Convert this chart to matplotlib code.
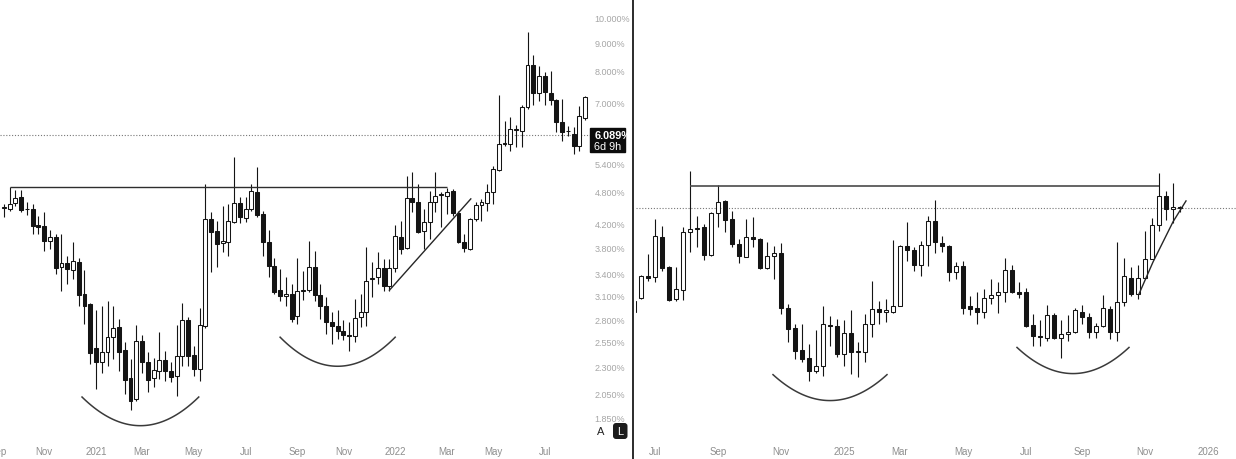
import numpy as np
import pandas as pd
import matplotlib
matplotlib.use('Agg')
import matplotlib.pyplot as plt
import matplotlib.dates as mdates
import matplotlib.transforms as mtrans
from matplotlib.patches import Rectangle, FancyBboxPatch
from matplotlib.lines import Line2D
from matplotlib.ticker import FixedLocator, FuncFormatter, NullLocator

plt.rcParams['font.family'] = ['Liberation Sans Narrow', 'Liberation Sans', 'DejaVu Sans']

W, H = 1236, 460

# ---- left chart, weekly bars (yield %) ----
left_start = '2020-09-14'
left_open = [4.49, 4.47, 4.58, 4.70, 4.47, 4.47, 4.17, 4.16, 3.90, 3.97,
             3.50, 3.56, 3.45, 3.57, 3.12, 2.99, 2.48, 2.34, 2.44, 2.60,
             2.71, 2.46, 2.19, 2.00, 2.56, 2.34, 2.19, 2.25, 2.36, 2.25,
             2.21, 2.40, 2.80, 2.41, 2.27, 2.72, 4.28, 4.07, 3.87, 3.89,
             4.23, 4.58, 4.30, 4.47, 4.80, 4.37, 3.89, 3.51, 3.17, 3.09,
             3.12, 2.84, 3.16, 3.17, 3.50, 3.11, 2.97, 2.77, 2.72, 2.67,
             2.62, 2.61, 2.83, 2.89, 3.32, 3.35, 3.48, 3.22, 3.48, 3.97,
             3.79, 4.68, 4.60, 4.07, 4.23, 4.60, 4.73, 4.72, 4.82, 4.39,
             3.89, 3.77, 4.28, 4.54, 4.58, 4.80, 5.27, 5.88, 5.88, 6.23,
             6.21, 6.87, 8.20, 7.29, 7.83, 7.29, 7.08, 6.45, 6.21, 6.13,
             5.83, 6.55]
left_high = [4.56, 4.90, 4.84, 4.84, 4.60, 4.56, 4.33, 4.41, 4.09, 4.02,
             4.02, 3.66, 3.89, 3.63, 3.45, 3.00, 2.91, 2.96, 3.03, 2.97,
             2.81, 2.55, 2.37, 2.74, 2.62, 2.44, 2.38, 2.66, 2.45, 2.34,
             2.74, 3.00, 2.83, 2.50, 2.94, 4.96, 4.41, 4.24, 4.52, 4.56,
             5.55, 4.70, 4.70, 4.96, 5.32, 4.43, 4.09, 3.63, 3.47, 3.35,
             3.25, 3.63, 3.44, 3.90, 3.74, 3.25, 3.08, 2.89, 2.91, 2.79,
             2.77, 3.06, 3.12, 3.80, 3.57, 3.72, 3.62, 3.62, 4.17, 4.24,
             5.14, 5.22, 4.96, 4.47, 4.82, 5.22, 4.80, 4.88, 4.86, 4.43,
             4.02, 4.30, 4.60, 4.66, 4.96, 5.36, 7.23, 6.47, 6.58, 6.36,
             6.93, 9.43, 8.56, 8.17, 7.96, 8.00, 7.10, 7.10, 6.34, 6.31,
             6.90, 7.20]
left_low = [4.32, 4.43, 4.52, 4.41, 4.35, 4.02, 4.02, 3.74, 3.77, 3.39,
            3.16, 3.25, 3.32, 2.97, 2.75, 2.32, 2.09, 2.24, 2.30, 2.37,
            2.25, 2.05, 1.91, 1.99, 2.24, 2.06, 2.11, 2.18, 2.16, 2.15,
            2.03, 2.30, 2.30, 2.21, 2.16, 2.70, 3.42, 3.50, 3.72, 3.66,
            4.21, 4.21, 4.23, 4.43, 4.32, 3.66, 3.35, 3.12, 3.03, 2.97,
            2.77, 2.75, 3.04, 3.15, 3.03, 2.81, 2.64, 2.53, 2.58, 2.57,
            2.45, 2.55, 2.71, 2.72, 3.08, 3.25, 3.16, 3.16, 3.42, 3.69,
            3.77, 4.41, 4.04, 3.77, 3.94, 4.41, 4.14, 4.37, 4.33, 3.87,
            3.72, 3.76, 4.24, 4.24, 4.43, 4.56, 5.25, 5.83, 5.70, 5.80,
            5.80, 6.81, 6.93, 7.05, 6.93, 6.93, 6.18, 5.95, 6.08, 5.63,
            5.70, 6.50]
left_close = [4.51, 4.56, 4.68, 4.45, 4.46, 4.16, 4.14, 3.90, 3.97, 3.48,
              3.56, 3.47, 3.59, 3.11, 2.97, 2.43, 2.34, 2.44, 2.60, 2.70,
              2.44, 2.17, 1.99, 2.56, 2.34, 2.17, 2.26, 2.36, 2.25, 2.20,
              2.40, 2.80, 2.40, 2.27, 2.74, 4.28, 4.06, 3.85, 3.90, 4.24,
              4.58, 4.32, 4.47, 4.82, 4.35, 3.89, 3.51, 3.15, 3.09, 3.12,
              2.81, 3.16, 3.17, 3.50, 3.11, 2.97, 2.77, 2.72, 2.67, 2.62,
              2.61, 2.82, 2.89, 3.29, 3.34, 3.48, 3.22, 3.48, 3.99, 3.77,
              4.68, 4.60, 4.06, 4.23, 4.60, 4.72, 4.76, 4.80, 4.39, 3.89,
              3.79, 4.28, 4.54, 4.60, 4.80, 5.29, 5.88, 5.90, 6.26, 6.26,
              6.87, 8.20, 7.29, 7.83, 7.32, 7.08, 6.45, 6.18, 6.20, 5.83,
              6.61, 7.15]
left_last_price = 6.089
left_level = 4.90
left_tick_dates = ['2020-09-07', '2020-11-02', '2021-01-04', '2021-03-01', '2021-05-03',
                   '2021-07-05', '2021-09-06', '2021-11-01', '2022-01-03', '2022-03-07',
                   '2022-05-02', '2022-07-04']
left_tick_labels = ['Sep', 'Nov', '2021', 'Mar', 'May', 'Jul', 'Sep', 'Nov', '2022',
                    'Mar', 'May', 'Jul']
price_ticks = [1.85, 2.05, 2.30, 2.55, 2.80, 3.10, 3.40, 3.80, 4.20, 4.80, 5.40,
               7.00, 8.00, 9.00, 10.00]

# ---- right chart, weekly bars ----
right_start = '2024-06-10'
right_open = [2.89, 3.07, 3.37, 3.35, 3.97, 3.50, 3.06, 3.17, 4.06, 4.11,
              4.14, 3.67, 4.39, 4.62, 4.28, 3.85, 3.65, 3.97, 3.94, 3.48,
              3.66, 3.71, 2.94, 2.70, 2.46, 2.38, 2.25, 2.30, 2.74, 2.72,
              2.42, 2.65, 2.44, 2.44, 2.75, 2.93, 2.89, 2.89, 2.97, 3.82,
              3.76, 3.53, 3.84, 4.24, 3.87, 3.82, 3.42, 3.51, 2.96, 2.94,
              2.89, 3.07, 3.11, 3.15, 3.45, 3.15, 3.14, 2.74, 2.61, 2.59,
              2.86, 2.59, 2.63, 2.66, 2.89, 2.83, 2.66, 2.72, 2.93, 2.66,
              3.01, 3.34, 3.12, 3.34, 3.62, 4.17, 4.72, 4.47, 4.51]
right_high = [3.05, 3.38, 3.69, 4.28, 4.16, 3.51, 3.50, 4.14, 5.25, 4.33,
              4.19, 4.41, 4.94, 4.64, 4.43, 3.94, 4.28, 4.32, 3.95, 3.89,
              3.82, 3.87, 2.99, 2.75, 2.75, 2.53, 2.68, 2.97, 2.84, 2.81,
              2.79, 2.92, 2.55, 2.87, 3.29, 3.03, 3.06, 3.92, 3.83, 4.23,
              3.80, 3.90, 4.33, 4.64, 3.99, 3.84, 3.57, 3.59, 3.10, 3.15,
              3.19, 3.32, 3.28, 3.63, 3.53, 3.28, 3.20, 2.87, 2.79, 2.98,
              2.88, 2.79, 2.85, 2.94, 2.98, 2.88, 2.76, 3.11, 2.97, 3.89,
              3.63, 3.50, 3.53, 4.07, 4.30, 5.20, 4.82, 4.98, 4.52]
right_low = [2.87, 3.06, 3.29, 3.28, 3.44, 3.03, 3.03, 3.04, 3.72, 3.80,
             3.60, 3.66, 4.14, 4.06, 3.80, 3.56, 3.64, 3.80, 3.46, 3.47,
             3.32, 2.87, 2.55, 2.37, 2.34, 2.16, 2.24, 2.21, 2.51, 2.39,
             2.30, 2.23, 2.20, 2.34, 2.60, 2.75, 2.77, 2.88, 2.96, 3.59,
             3.44, 3.36, 3.51, 3.71, 3.72, 3.29, 3.32, 2.87, 2.85, 2.75,
             2.82, 2.99, 2.88, 3.01, 3.13, 3.07, 2.71, 2.51, 2.51, 2.56,
             2.58, 2.38, 2.56, 2.65, 2.75, 2.59, 2.59, 2.71, 2.58, 2.56,
             2.96, 3.09, 3.06, 3.32, 3.61, 4.07, 4.26, 4.21, 4.41]
right_close = [3.03, 3.37, 3.34, 3.99, 3.48, 3.04, 3.19, 4.06, 4.11, 4.12,
               3.67, 4.39, 4.60, 4.26, 3.85, 3.66, 3.97, 3.94, 3.48, 3.66,
               3.71, 2.94, 2.69, 2.45, 2.37, 2.25, 2.30, 2.75, 2.72, 2.42,
               2.65, 2.44, 2.45, 2.75, 2.93, 2.89, 2.91, 2.97, 3.82, 3.76,
               3.53, 3.84, 4.24, 3.89, 3.82, 3.42, 3.51, 2.94, 2.93, 2.89,
               3.07, 3.11, 3.15, 3.45, 3.14, 3.12, 2.72, 2.61, 2.60, 2.86,
               2.59, 2.63, 2.66, 2.91, 2.83, 2.66, 2.72, 2.94, 2.66, 3.01,
               3.37, 3.12, 3.34, 3.62, 4.17, 4.72, 4.47, 4.51, 4.49]
right_level = 4.92
right_tick_dates = ['2024-07-01', '2024-09-02', '2024-11-04', '2025-01-06', '2025-03-03',
                    '2025-05-05', '2025-07-07', '2025-09-01', '2025-11-03', '2026-01-05']
right_tick_labels = ['Jul', 'Sep', 'Nov', '2025', 'Mar', 'May', 'Jul', 'Sep', 'Nov', '2026']

# drawings: cups (centre, half width in days, bottom value, edge value)
left_cups = [('2021-02-27', 71, 1.79, 2.02), ('2021-10-25', 70, 2.30, 2.60)]
right_cups = [('2024-12-23', 57, 1.99, 2.22), ('2025-08-23', 56, 2.23, 2.49)]
left_trend = [('2021-12-27', 3.17), ('2022-04-05', 4.66)]
right_trend = [('2025-10-28', 3.12), ('2025-11-11', 3.57), ('2025-12-01', 4.23), ('2025-12-14', 4.62)]

ylim = (1.685, 10.83)
ink = '#141414'


def draw_candles(ax, x, o, h, l, c, width):
    o, h, l, c = map(np.asarray, (o, h, l, c))
    up = c >= o
    bottom = np.minimum(o, c)
    height = np.abs(c - o)
    ax.vlines(x, l, h, color=ink, lw=0.8, zorder=2)
    ax.bar(x[up], height[up], width, bottom=bottom[up], color='white',
           edgecolor=ink, lw=0.75, zorder=3)
    ax.bar(x[~up], height[~up], width, bottom=bottom[~up], color=ink,
           edgecolor=ink, lw=0.75, zorder=3)


def draw_cup(ax, centre, half, v_bot, v_edge):
    t = np.linspace(-1, 1, 100)
    xs = mdates.date2num(pd.Timestamp(centre)) + t * half
    ys = np.exp(np.log(v_bot) + (np.log(v_edge) - np.log(v_bot)) * t ** 2)
    ax.plot(xs, ys, color='#3a3a3a', lw=1.1, zorder=4)


def draw_line(ax, pts):
    xs = mdates.date2num(pd.to_datetime([p[0] for p in pts]))
    ax.plot(xs, [p[1] for p in pts], color='#262626', lw=1.0, zorder=4)


def time_labels(ax, dates, labels):
    tr = mtrans.blended_transform_factory(ax.transData, ax.transAxes) + \
        mtrans.ScaledTranslation(0, -0.11, fig.dpi_scale_trans)
    for d, s in zip(dates, labels):
        ax.text(mdates.date2num(pd.Timestamp(d)), 0, s, transform=tr, ha='center',
                va='center', fontsize=7, color='#8e8e8e', clip_on=False)


fig = plt.figure(figsize=(W / 100, H / 100), dpi=100)
fig.patch.set_facecolor('white')

axL = fig.add_axes([0, 19 / H, 590 / W, 441 / H])
axR = fig.add_axes([636 / W, 19 / H, 600 / W, 441 / H])

for ax in (axL, axR):
    ax.set_yscale('log')
    ax.set_ylim(*ylim)
    for sp in ax.spines.values():
        sp.set_visible(False)
    ax.set_xticks([])
    ax.yaxis.set_minor_locator(NullLocator())

# left chart
xl = mdates.date2num(pd.date_range(left_start, periods=len(left_open), freq='7D'))
l0 = mdates.date2num(pd.Timestamp('2020-09-09 05:00'))
axL.set_xlim(l0, l0 + 717.8)
draw_candles(axL, xl, left_open, left_high, left_low, left_close, 4.8)
axL.hlines(left_level, xl[1], xl[77], color='#2e2e2e', lw=1.0, zorder=4)
axL.axhline(left_last_price, color='#777777', lw=0.8, ls=(0, (1, 1.6)), zorder=1)
for cup in left_cups:
    draw_cup(axL, *cup)
draw_line(axL, left_trend)
axL.yaxis.tick_right()
axL.yaxis.set_major_locator(FixedLocator(price_ticks))
axL.yaxis.set_major_formatter(FuncFormatter(lambda v, p: f'{v:.3f}%'))
axL.tick_params(axis='y', length=0, pad=3.3, labelsize=6.5, labelcolor='#a6a6a6')
time_labels(axL, left_tick_dates, left_tick_labels)

# right chart
xr = mdates.date2num(pd.date_range(right_start, periods=len(right_open), freq='7D'))
r0 = mdates.date2num(pd.Timestamp('2024-06-12'))
axR.set_xlim(r0, r0 + 600)
draw_candles(axR, xr, right_open, right_high, right_low, right_close, 4.8)
axR.hlines(right_level, xr[8], xr[75], color='#4a4a4a', lw=1.2, zorder=4)
axR.axhline(right_close[-1], color='#777777', lw=0.8, ls=(0, (1, 1.6)), zorder=1)
for cup in right_cups:
    draw_cup(axR, *cup)
draw_line(axR, right_trend)
axR.set_yticks([])
time_labels(axR, right_tick_dates, right_tick_labels)

# price label box
fig.add_artist(Rectangle((5.90, 3.07), 0.35, 0.24, transform=fig.dpi_scale_trans,
                         color='#0c0c0c', zorder=5))
fig.text(5.945, 3.235, f'{left_last_price:.3f}%', transform=fig.dpi_scale_trans,
         color='white', fontsize=7.8, fontweight='bold', ha='left', va='center', zorder=6)
fig.text(5.945, 3.13, '6d 9h', transform=fig.dpi_scale_trans,
         color='white', fontsize=7.8, ha='left', va='center', zorder=6)

# A / L buttons
fig.text(6.01, 0.275, 'A', transform=fig.dpi_scale_trans, fontsize=8,
         color='#222222', ha='center', va='center')
fig.add_artist(FancyBboxPatch((6.13, 0.20), 0.145, 0.16, transform=fig.dpi_scale_trans,
                              boxstyle='round,pad=0,rounding_size=0.03',
                              fc='#1c1c1c', ec='none'))
fig.text(6.2025, 0.28, 'L', transform=fig.dpi_scale_trans, fontsize=8,
         color='white', ha='center', va='center')

# panel separator
fig.add_artist(Line2D([6.33, 6.33], [0, 4.6], transform=fig.dpi_scale_trans,
                      color='#2b2b2b', lw=1.4))

fig.savefig('out.png', dpi=100, facecolor='white')
